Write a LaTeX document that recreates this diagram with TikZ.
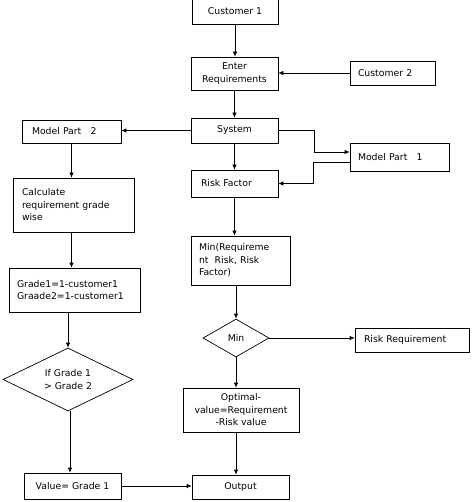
\documentclass[tikz,border=0pt]{standalone}
\usepackage{fontspec}
\setmainfont{DejaVu Sans}
\usetikzlibrary{shapes.geometric,arrows.meta}
\begin{document}
\begin{tikzpicture}[x=1pt,y=-1pt,
  every node/.style={font=\fontsize{9.3}{12.5}\selectfont},
  box/.style={draw, line width=0.7pt, inner sep=0pt, rectangle},
  dia/.style={draw, line width=0.7pt, inner sep=0pt, diamond, aspect=2},
  arr/.style={draw, line width=0.7pt, -{Latex[length=5pt,width=4.5pt]}}]
\useasboundingbox (0,0) rectangle (474,502);
% right column
\node[box, minimum width=86pt, minimum height=26pt] (c1) at (235,11) {Customer 1};
\node[box, minimum width=87pt, minimum height=33pt, align=center] (enter) at (234.5,73.5) {Enter\\Requirements};
\node[box, minimum width=85pt, minimum height=24pt, text width=69pt, align=left] (c2) at (392.5,73) {Customer 2};
\node[box, minimum width=87pt, minimum height=25pt] (sys) at (234.5,130.5) {System};
\node[box, minimum width=99pt, minimum height=28pt, text width=83pt, align=left] (mp1) at (399.5,157) {Model Part\ \ \ 1};
\node[box, minimum width=87pt, minimum height=27pt, text width=67pt, align=left] (risk) at (234.5,183.5) {Risk Factor};
\node[box, minimum width=99pt, minimum height=49pt, text width=83pt, align=left] (minbox) at (240.5,260.5) {Min(Requireme\\nt\ \ Risk, Risk\\Factor)};
\node[dia, minimum width=66pt, minimum height=38pt] (mind) at (236,338) {Min};
\node[box, minimum width=114pt, minimum height=24pt, text width=96pt, align=left] (rr) at (412,340) {Risk Requirement};
\node[box, minimum width=116pt, minimum height=44pt, align=center] (opt) at (241,410) {Optimal-\\value=Requirement\\-Risk value};
\node[box, minimum width=97pt, minimum height=24pt] (out) at (240.5,487) {Output};
% left column
\node[box, minimum width=99pt, minimum height=23pt, text width=79pt, align=left] (mp2) at (71.5,131.5) {Model Part\ \ \ 2};
\node[box, minimum width=121pt, minimum height=54pt, text width=103pt, align=left] (calc) at (73.5,205) {Calculate\\requirement grade\\wise};
\node[box, minimum width=131pt, minimum height=44pt, text width=115pt, align=left] (grade) at (74.5,290) {Grade1=1-customer1\\Graade2=1-customer1\\[5pt]};
\node[dia, minimum width=130pt, minimum height=63pt, align=center] (ifd) at (68,379.5) {If Grade 1\\> Grade 2};
\node[box, minimum width=97pt, minimum height=26pt] (val) at (72.5,486) {Value= Grade 1};
% connectors
\draw[arr] (c1.south) -- (c1.south |- enter.north);
\draw[arr] (c2.west) -- (c2.west -| enter.east);
\draw[arr] (enter.south) -- (enter.south |- sys.north);
\draw[arr] (sys.west) -- (sys.west -| mp2.east);
\draw[arr] (sys.east) -- ++(36,0) |- ([yshift=5pt]mp1.west);
\draw[arr] ([yshift=-5pt]mp1.west) -- ++(-36,0) |- (risk.east);
\draw[arr] (sys.south) -- (sys.south |- risk.north);
\draw[arr] (risk.south) -- (risk.south |- minbox.north);
\draw[arr] (mind.north |- minbox.south) -- (mind.north);
\draw[arr] (mind.east) -- (mind.east -| rr.west);
\draw[arr] (mind.south) -- (mind.south |- opt.north);
\draw[arr] (mind.south |- opt.south) -- (mind.south |- out.north);
\draw[arr] (mp2.south) -- (mp2.south |- calc.north);
\draw[arr] (mp2.south |- calc.south) -- (mp2.south |- grade.north);
\draw[arr] (ifd.north |- grade.south) -- (ifd.north);
\draw[arr] ([xshift=2pt]ifd.south) -- ([xshift=2pt]ifd.south |- val.north);
\draw[arr] (val.east) -- (val.east -| out.west);
\end{tikzpicture}
\end{document}
